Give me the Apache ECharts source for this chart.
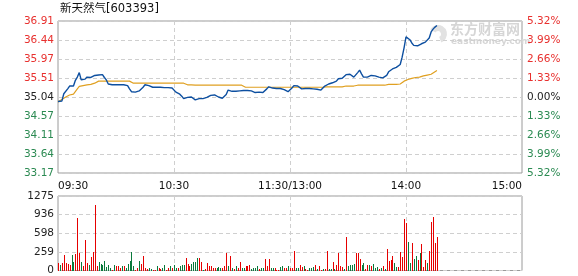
<!DOCTYPE html>
<html><head><meta charset="utf-8">
<script src="https://cdn.jsdelivr.net/npm/echarts@6/dist/echarts.min.js"></script>
<style>html,body{margin:0;padding:0;background:#fff}#c{width:578px;height:276px}</style>
</head><body><div id="c"></div>
<script>
const titleText = '新天然气[603393]';
const priceTicks = ['33.17','33.64','34.11','34.57','35.04','35.51','35.97','36.44','36.91'];
const pctTicks = ['5.32%','3.99%','2.66%','1.33%','0.00%','1.33%','2.66%','3.99%','5.32%'];
const volTicks = ['0','259','598','936','1275'];
const timeTicks = ['09:30','10:30','11:30/13:00','14:00','15:00'];
const priceMin = 33.17, priceMax = 36.91, prevClose = 35.04;
const volMax = 1275;
const totalMinutes = 241;

const price = [
34.93,34.93,34.94,35.12,35.12,35.24,35.31,35.27,35.31,35.45,
35.53,35.64,35.46,35.44,35.48,35.53,35.51,35.52,35.54,35.57,
35.56,35.58,35.57,35.59,35.52,35.46,35.36,35.34,35.34,35.34,
35.34,35.33,35.34,35.34,35.34,35.33,35.32,35.24,35.17,35.16,
35.16,35.16,35.19,35.21,35.28,35.34,35.34,35.32,35.28,35.28,
35.28,35.28,35.28,35.28,35.28,35.27,35.27,35.27,35.26,35.26,
35.23,35.16,35.13,35.11,35.06,35.00,34.99,35.03,35.05,35.04,
35.01,34.97,34.95,35.00,35.00,35.00,35.00,35.03,35.06,35.08,
35.09,35.09,35.05,35.04,35.02,35.01,35.04,35.10,35.21,35.21,
35.18,35.17,35.18,35.19,35.19,35.17,35.20,35.18,35.20,35.18,
35.19,35.18,35.15,35.16,35.16,35.15,35.15,35.18,35.24,35.29,
35.28,35.26,35.25,35.25,35.25,35.25,35.24,35.22,35.19,35.17,
35.20,35.26,35.32,35.32,35.31,35.29,35.24,35.24,35.25,35.25,
35.25,35.25,35.24,35.23,35.23,35.21,35.21,35.26,35.31,35.35,
35.36,35.35,35.39,35.40,35.43,35.49,35.49,35.50,35.51,35.59,
35.62,35.60,35.56,35.53,35.54,35.64,35.70,35.61,35.53,35.52,
35.53,35.54,35.57,35.57,35.56,35.54,35.53,35.51,35.51,35.51,
35.57,35.66,35.69,35.73,35.76,35.77,35.79,35.84,36.02,36.25,
36.52,36.53,36.45,36.37,36.31,36.30,36.30,36.32,36.35,36.36,
36.39,36.39,36.49,36.64,36.71,36.76,36.80
];

const avgPrice = [
34.92,34.94,34.98,35.02,35.04,35.06,35.09,35.10,35.11,35.14,
35.24,35.30,35.31,35.32,35.33,35.34,35.34,35.35,35.36,35.38,
35.42,35.43,35.43,35.43,35.43,35.43,35.43,35.43,35.43,35.43,
35.43,35.43,35.43,35.43,35.43,35.43,35.43,35.43,35.40,35.38,
35.38,35.38,35.38,35.38,35.38,35.38,35.38,35.38,35.38,35.38,
35.38,35.38,35.38,35.38,35.38,35.38,35.38,35.38,35.38,35.38,
35.38,35.38,35.38,35.38,35.38,35.38,35.34,35.34,35.34,35.34,
35.34,35.33,35.33,35.33,35.33,35.33,35.33,35.33,35.33,35.33,
35.33,35.33,35.33,35.33,35.33,35.33,35.33,35.33,35.33,35.33,
35.33,35.33,35.33,35.33,35.33,35.33,35.31,35.28,35.28,35.28,
35.28,35.28,35.28,35.28,35.28,35.28,35.28,35.28,35.28,35.28,
35.28,35.28,35.28,35.28,35.28,35.28,35.28,35.28,35.28,35.28,
35.28,35.28,35.28,35.28,35.28,35.28,35.28,35.28,35.28,35.28,
35.28,35.28,35.28,35.28,35.28,35.28,35.28,35.28,35.29,35.29,
35.29,35.29,35.29,35.29,35.29,35.29,35.29,35.29,35.31,35.31,
35.31,35.31,35.31,35.31,35.33,35.33,35.33,35.33,35.33,35.33,
35.33,35.33,35.33,35.33,35.33,35.33,35.33,35.33,35.33,35.33,
35.35,35.35,35.35,35.35,35.35,35.35,35.35,35.36,35.39,35.43,
35.46,35.47,35.48,35.50,35.51,35.52,35.53,35.53,35.55,35.56,
35.57,35.58,35.59,35.60,35.63,35.66,35.69
];

const volume = [
120,102,130,266,130,113,102,266,153,289,
890,300,153,74,527,130,102,238,323,1122,
85,153,119,102,164,68,102,40,17,102,
85,85,40,85,85,51,119,170,323,85,
17,40,170,119,255,51,28,51,28,17,
17,85,51,28,51,102,17,51,85,40,
102,51,51,74,102,102,210,119,74,119,
142,153,221,221,153,17,28,136,74,74,
51,51,51,68,40,51,74,306,85,255,
40,28,85,40,153,40,51,74,85,102,
28,40,40,85,28,40,40,204,74,204,
40,40,51,17,17,62,85,40,51,85,
51,51,340,51,51,102,62,74,34,17,
51,51,62,102,34,85,17,34,34,340,
34,34,153,34,102,306,85,68,34,578,
85,102,102,119,306,306,204,102,136,34,
102,102,85,119,51,68,34,51,85,34,
374,170,187,255,136,68,68,323,238,884,
816,493,136,476,204,255,187,306,459,68,
187,136,340,833,918,476,578
];

const volUp = [
1,0,1,1,1,1,1,0,0,1,
1,1,0,1,1,1,0,1,1,1,
1,0,0,0,0,0,0,0,1,0,
1,1,1,0,1,0,0,0,0,0,
1,1,0,1,1,1,1,0,0,1,
1,0,1,1,0,0,1,1,0,1,
0,0,1,0,0,0,1,1,1,0,
0,0,0,1,1,0,1,1,1,1,
1,1,0,0,0,1,1,1,0,1,
0,1,0,1,1,0,0,1,1,1,
0,0,0,0,1,0,0,1,1,1,
0,0,1,1,1,0,0,1,1,0,
1,1,1,0,0,1,1,0,1,1,
0,0,0,1,0,1,1,0,1,1,
0,0,1,0,1,1,1,1,0,1,
0,0,0,0,1,1,1,0,0,1,
1,0,1,0,0,0,1,0,1,0,
1,1,1,1,0,0,1,1,1,1,
1,0,0,1,0,0,1,0,1,1,
1,0,1,1,1,1,1
];

const RED = '#e60000', GREEN = '#0a7a3c';
const LBL_RED = '#e8302e', LBL_GREEN = '#2b8a52', LBL_BLACK = '#222';
const FONT = 'DejaVu Sans';

const cats = [];
for (let i = 0; i < totalMinutes; i++) cats.push(i);

const pInt = (priceMax - priceMin) / 8;
const vInt = volMax / 4;

function priceIdx(v) { return Math.round((v - priceMin) / pInt); }
function styleKey(i) { return i < 4 ? 'g' : (i === 4 ? 'k' : 'r'); }
const richLbl = {
  r: { color: LBL_RED, fontSize: 10.5, fontFamily: FONT },
  g: { color: LBL_GREEN, fontSize: 10.5, fontFamily: FONT },
  k: { color: LBL_BLACK, fontSize: 10.5, fontFamily: FONT }
};
const dash = { color: '#cfcfcf', type: [4, 3], width: 1 };
const vSplit = (idx) => idx === 60 || idx === 120 || idx === 180;

const chart = echarts.init(document.getElementById('c'), null, { renderer: 'canvas' });
chart.setOption({
  animation: false,
  backgroundColor: '#fff',
  graphic: [
    { type: 'text', left: 60, top: 3, z: 10,
      style: { text: titleText, fontSize: 11.5, fontFamily: 'DejaVu Sans, Noto Sans CJK SC', fill: '#111' } },
    { type: 'text', left: 450, top: 22, z: 0,
      style: { text: '东方财富网', fontSize: 14, fontWeight: 'bold', fontFamily: 'Noto Sans CJK SC', fill: '#d6d6d6' } },
    { type: 'text', left: 451, top: 37, z: 0,
      style: { text: 'eastmoney.com', fontSize: 9, fontWeight: 'bold', fontFamily: 'DejaVu Sans', fill: '#d6d6d6' } },
    { type: 'sector', shape: { cx: 438, cy: 34, r: 9, r0: 3, startAngle: -2.6, endAngle: 1.2 }, z: 0,
      style: { fill: '#e2e2e2' } }
  ],
  grid: [
    { left: 58, right: 56, top: 21, height: 152, show: true, borderColor: '#9a9a9a', borderWidth: 1, backgroundColor: 'transparent' },
    { left: 58, right: 56, top: 196, height: 75, show: true, borderColor: '#9a9a9a', borderWidth: 1, backgroundColor: 'transparent' }
  ],
  xAxis: [
    { type: 'category', gridIndex: 0, data: cats, boundaryGap: false,
      axisLine: { show: false }, axisTick: { show: false },
      axisLabel: { interval: (i) => i % 60 === 0, margin: 8, color: '#111', fontSize: 10.5, fontFamily: FONT,
        alignMinLabel: 'left', alignMaxLabel: 'right',
        formatter: (v, i) => timeTicks[Math.round(i / 60)] },
      splitLine: { show: true, interval: vSplit, lineStyle: dash } },
    { type: 'category', gridIndex: 1, data: cats, boundaryGap: false,
      axisLine: { show: false }, axisTick: { show: false }, axisLabel: { show: false },
      splitLine: { show: true, interval: vSplit, lineStyle: dash } }
  ],
  yAxis: [
    { type: 'value', gridIndex: 0, min: priceMin, max: priceMax, interval: pInt, position: 'left',
      axisLine: { show: false }, axisTick: { show: false },
      axisLabel: { margin: 4, formatter: (v) => { const i = priceIdx(v); return '{' + styleKey(i) + '|' + priceTicks[i] + '}'; }, rich: richLbl },
      splitLine: { show: true, lineStyle: dash } },
    { type: 'value', gridIndex: 0, min: priceMin, max: priceMax, interval: pInt, position: 'right',
      axisLine: { show: false }, axisTick: { show: false },
      axisLabel: { margin: 5, formatter: (v) => { const i = priceIdx(v); return '{' + styleKey(i) + '|' + pctTicks[i] + '}'; }, rich: richLbl },
      splitLine: { show: false } },
    { type: 'value', gridIndex: 1, min: 0, max: volMax, interval: vInt, position: 'left',
      axisLine: { show: false }, axisTick: { show: false },
      axisLabel: { margin: 4, color: '#222', fontSize: 10.5, fontFamily: FONT,
        formatter: (v) => volTicks[Math.round(v / vInt)] },
      splitLine: { show: true, lineStyle: dash } }
  ],
  series: [
    { type: 'line', xAxisIndex: 0, yAxisIndex: 0, data: avgPrice, showSymbol: false, z: 3,
      lineStyle: { color: '#e0a020', width: 1.2 } },
    { type: 'line', xAxisIndex: 0, yAxisIndex: 0, data: price, showSymbol: false, z: 4,
      lineStyle: { color: '#0d4fa0', width: 1.4 } },
    { type: 'custom', xAxisIndex: 1, yAxisIndex: 2,
      data: volume.map((v, i) => [i, v, volUp[i]]),
      encode: { x: 0, y: 1 },
      renderItem: function (params, api) {
        const top = api.coord([api.value(0), api.value(1)]);
        const base = api.coord([api.value(0), 0]);
        const x = Math.round(top[0]);
        const y0 = Math.round(top[1]);
        const y1 = Math.round(base[1]);
        return { type: 'rect', shape: { x: x, y: y0, width: 1, height: y1 - y0 },
          style: { fill: api.value(2) ? RED : GREEN } };
      } }
  ]
});
</script></body></html>
